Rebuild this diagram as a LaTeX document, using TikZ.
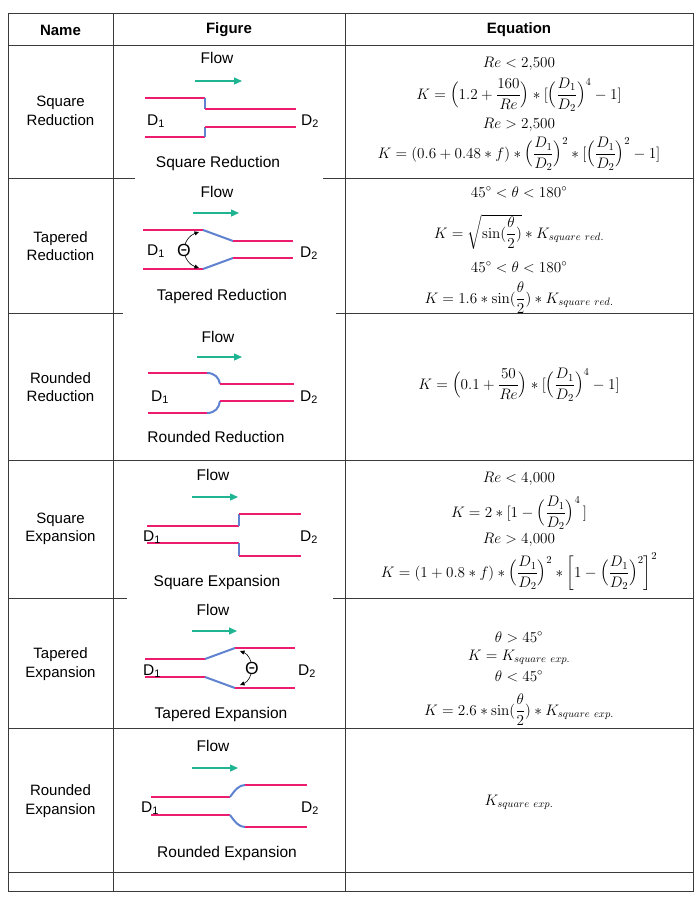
\RequirePackage{fix-cm}
\documentclass[tikz,border=0pt]{standalone}
\usepackage{amsmath}
\usepackage[no-math]{fontspec}
\setmainfont{Liberation Sans}
\usetikzlibrary{arrows.meta}
\definecolor{pipec}{HTML}{EC1C6E}
\definecolor{transc}{HTML}{5F82D0}
\definecolor{flowc}{HTML}{1FB492}
\definecolor{gridc}{HTML}{3A3A3A}
\newcommand{\dd}{\Bigl(\dfrac{D_1}{D_2}\Bigr)}
\tikzset{
  tabline/.style={draw=gridc, line width=0.9pt},
  pipe/.style={draw=pipec, line width=2pt},
  trans/.style={draw=transc, line width=2pt},
  flowarrow/.style={draw=flowc, line width=1.3pt, -{Triangle[length=8pt,width=7pt]}},
  thetaarc/.style={draw=black, line width=0.6pt, {Triangle[length=4.5pt,width=4pt]}-{Triangle[length=4.5pt,width=4pt]}},
  lbl/.style={font=\fontsize{15.5}{18.5}\selectfont, inner sep=0pt},
  thetalbl/.style={font=\fontsize{17.5}{18.5}\selectfont, inner sep=0.2pt, fill=white},
  namelbl/.style={font=\fontsize{15}{18.5}\selectfont, align=center, inner sep=0pt},
  head/.style={font=\bfseries\fontsize{15}{17}\selectfont, inner sep=0pt},
  eq/.style={font=\fontsize{15.2}{18}\selectfont, anchor=base, inner sep=0pt},
}
\begin{document}
\begin{tikzpicture}[x=1pt,y=-1pt]
\useasboundingbox[fill=white] (0,0) rectangle (700,900);
% ---- table ----
\draw[tabline] (8,13) rectangle (693,891);
\draw[tabline] (113,13) -- (113,891);
\draw[tabline] (345,13) -- (345,891);
\draw[tabline] (8,45) -- (693,45);
\draw[tabline] (8,178) -- (135,178);  \draw[tabline] (323,178) -- (693,178);
\draw[tabline] (8,313) -- (123,313);  \draw[tabline] (336,313) -- (693,313);
\draw[tabline] (8,460) -- (693,460);
\draw[tabline] (8,598) -- (127,598);  \draw[tabline] (333,598) -- (693,598);
\draw[tabline] (8,728) -- (693,728);
\draw[tabline] (8,872) -- (693,872);
% ---- headers ----
\node[head] (hname) at (60.5,30) {Name};
\node[head] (hfig) at (229,30) {Figure};
\node[head] (heq) at (519,30) {Equation};
% ---- names ----
\node[namelbl] (n1) at (60.5,111) {Square\\Reduction};
\node[namelbl] (n2) at (60.5,246) {Tapered\\Reduction};
\node[namelbl] (n3) at (60.5,387) {Rounded\\Reduction};
\node[namelbl] (n4) at (60.5,529) {Square\\Expansion};
\node[namelbl] (n5) at (60.5,664) {Tapered\\Expansion};
\node[namelbl] (n6) at (60.5,801) {Rounded\\Expansion};
% ---- row 1: square reduction ----
\node[lbl] (f1) at (217,58) {Flow};
\coordinate (a1s) at (195,81); \coordinate (a1e) at (242,81);
\draw[flowarrow] (a1s) -- (a1e);
\draw[pipe] (145,98) -- (205,98);
\draw[trans] (205,98) -- (205,109);
\draw[pipe] (205,109) -- (296,109);
\draw[pipe] (145,137) -- (205,137);
\draw[trans] (205,137) -- (205,127);
\draw[pipe] (205,127) -- (296,127);
\node[lbl] (d11) at (156,121) {D\textsubscript{1}};
\node[lbl] (d12) at (310,121) {D\textsubscript{2}};
\node[lbl] (c1) at (218,163) {Square Reduction};
% ---- row 2: tapered reduction ----
\node[lbl] (f2) at (217,192) {Flow};
\coordinate (a2s) at (193,213); \coordinate (a2e) at (239,213);
\draw[flowarrow] (a2s) -- (a2e);
\draw[pipe] (143,230) -- (203,230);
\draw[trans] (203,230) -- (233,241);
\draw[pipe] (233,241) -- (293,241);
\draw[pipe] (143,269) -- (203,269);
\draw[trans] (203,269) -- (233,258);
\draw[pipe] (233,258) -- (293,258);
\draw[thetaarc] (199,232) .. controls (190,235) and (184,242) .. (184,250) .. controls (184,258) and (190,265) .. (199,268);
\node[thetalbl] (t2) at (184,250) {Θ};
\node[lbl] (d21) at (156,251) {D\textsubscript{1}};
\node[lbl] (d22) at (309,253) {D\textsubscript{2}};
\node[lbl] (c2) at (222,296) {Tapered Reduction};
% ---- row 3: rounded reduction ----
\node[lbl] (f3) at (218,337) {Flow};
\coordinate (a3s) at (197,357); \coordinate (a3e) at (242,357);
\draw[flowarrow] (a3s) -- (a3e);
\draw[pipe] (148,373) -- (207,373);
\draw[trans] (207,373) .. controls (215,373) and (219,378) .. (220,384);
\draw[pipe] (220,384) -- (294,384);
\draw[pipe] (148,413) -- (207,413);
\draw[trans] (207,413) .. controls (215,413) and (219,408) .. (220,401);
\draw[pipe] (220,401) -- (294,401);
\node[lbl] (d31) at (160,397) {D\textsubscript{1}};
\node[lbl] (d32) at (309,397) {D\textsubscript{2}};
\node[lbl] (c3) at (216,437) {Rounded Reduction};
% ---- row 4: square expansion ----
\node[lbl] (f4) at (213,475) {Flow};
\coordinate (a4s) at (192,497); \coordinate (a4e) at (238,497);
\draw[flowarrow] (a4s) -- (a4e);
\draw[pipe] (147,526) -- (239,526);
\draw[trans] (239,526) -- (239,514);
\draw[pipe] (239,514) -- (301,514);
\draw[pipe] (147,543) -- (239,543);
\draw[trans] (239,543) -- (239,556);
\draw[pipe] (239,556) -- (301,556);
\node[lbl] (d41) at (152,537) {D\textsubscript{1}};
\node[lbl] (d42) at (309,537) {D\textsubscript{2}};
\node[lbl] (c4) at (217,582) {Square Expansion};
% ---- row 5: tapered expansion ----
\node[lbl] (f5) at (213,610) {Flow};
\coordinate (a5s) at (192,631); \coordinate (a5e) at (237,631);
\draw[flowarrow] (a5s) -- (a5e);
\draw[pipe] (145,659) -- (205,659);
\draw[trans] (205,659) -- (235,648);
\draw[pipe] (235,648) -- (295,648);
\draw[pipe] (145,677) -- (205,677);
\draw[trans] (205,677) -- (235,688);
\draw[pipe] (235,688) -- (295,688);
\draw[thetaarc] (240,651) .. controls (248,654) and (252,661) .. (252,668) .. controls (252,675) and (248,682) .. (240,685);
\node[thetalbl] (t5) at (252,668) {Θ};
\node[lbl] (d51) at (152,671) {D\textsubscript{1}};
\node[lbl] (d52) at (307,671) {D\textsubscript{2}};
\node[lbl] (c5) at (221,714) {Tapered Expansion};
% ---- row 6: rounded expansion ----
\node[lbl] (f6) at (213,746) {Flow};
\coordinate (a6s) at (192,768); \coordinate (a6e) at (238,768);
\draw[flowarrow] (a6s) -- (a6e);
\draw[pipe] (151,797) -- (230,797);
\draw[trans] (230,797) .. controls (235,790) and (239,785) .. (245,785);
\draw[pipe] (245,785) -- (307,785);
\draw[pipe] (151,815) -- (230,815);
\draw[trans] (230,815) .. controls (235,822) and (239,827) .. (245,827);
\draw[pipe] (245,827) -- (307,827);
\node[lbl] (d61) at (150,808) {D\textsubscript{1}};
\node[lbl] (d62) at (310,808) {D\textsubscript{2}};
\node[lbl] (c6) at (227,853) {Rounded Expansion};
% ---- equations ----
\node[eq] (e11) at (519,67) {$Re < 2{,}500$};
\node[eq] (e12) at (519,99) {$K = \Bigl(1.2 + \dfrac{160}{Re}\Bigr) \ast [\dd^4 - 1]$};
\node[eq] (e13) at (519,128) {$Re > 2{,}500$};
\node[eq] (e14) at (519,158) {$K = (0.6 + 0.48 \ast f) \ast \dd^2 \ast [\dd^2 - 1]$};
\node[eq] (e21) at (519,197) {$45^\circ < \theta < 180^\circ$};
\node[eq] (e22) at (519,238) {$K = \sqrt{\sin(\dfrac{\theta}{2})} \ast K_{square\ red.}$};
\node[eq] (e23) at (519,272) {$45^\circ < \theta < 180^\circ$};
\node[eq] (e24) at (519,303) {$K = 1.6 \ast \sin(\dfrac{\theta}{2}) \ast K_{square\ red.}$};
\node[eq] (e31) at (519,389) {$K = \Bigl(0.1 + \dfrac{50}{Re}\Bigr) \ast [\dd^4 - 1]$};
\node[eq] (e41) at (519,482) {$Re < 4{,}000$};
\node[eq] (e42) at (519,517) {$K = 2 \ast [1 - \dd^4\,]$};
\node[eq] (e43) at (519,543) {$Re > 4{,}000$};
\node[eq] (e44) at (519,577) {$K = (1 + 0.8 \ast f) \ast \dd^2 \ast \biggl[1 - \dd^2\biggr]^2$};
\node[eq] (e51) at (519,642) {$\theta > 45^\circ$};
\node[eq] (e52) at (519,660) {$K = K_{square\ exp.}$};
\node[eq] (e53) at (519,681) {$\theta < 45^\circ$};
\node[eq] (e54) at (519,715) {$K = 2.6 \ast \sin(\dfrac{\theta}{2}) \ast K_{square\ exp.}$};
\node[eq] (e61) at (519,805) {$K_{square\ exp.}$};
\end{tikzpicture}
\end{document}
